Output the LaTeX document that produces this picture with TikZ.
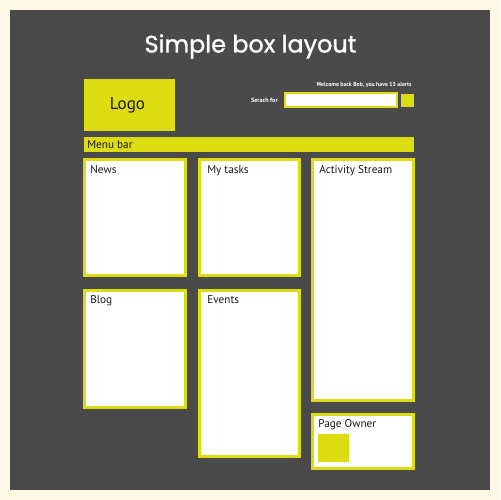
\documentclass[tikz,border=0pt]{standalone}
\usepackage{fontspec}
\setmainfont{PT Sans}
\newfontfamily\titlefont[FakeBold=1.2]{Poppins}
\definecolor{cream}{HTML}{FEF8E6}
\definecolor{darkbg}{HTML}{4A4A4A}
\definecolor{ylw}{HTML}{DCDC11}
\definecolor{ink}{HTML}{1A1A1A}
\begin{document}
\begin{tikzpicture}[x=0.02cm,y=-0.02cm,
  panel/.style={draw=ylw,line width=1.7pt,fill=white,inner sep=0pt,outer sep=0pt},
  solidbox/.style={fill=ylw,inner sep=0pt,outer sep=0pt},
  lbl/.style={anchor=base west,inner sep=0pt,font=\fontsize{6.4pt}{7pt}\selectfont,text=ink},
  tiny/.style={inner sep=0pt,text=white}]
\useasboundingbox (0,0) rectangle (500,500);
\fill[cream] (0,0) rectangle (500,500);
\fill[darkbg] (10,10) rectangle (490,490);
\node[anchor=base,inner sep=0pt,text=white,font=\titlefont\fontsize{13.6pt}{16pt}\selectfont] (title) at (250.5,52.5) {Simple box layout};
% header
\node[solidbox,minimum width=91*0.02cm,minimum height=52*0.02cm] (logo) at (129.5,105) {};
\node[anchor=base,inner sep=0pt,text=ink,font=\fontsize{9.7pt}{11pt}\selectfont] (logotext) at (127.5,110) {Logo};
\node[tiny,anchor=base east,font=\bfseries\fontsize{3.3pt}{3.8pt}\selectfont] (welcome) at (412,87) {Welcome back Bob, you have 13 alerts};
\node[tiny,anchor=base east,font=\bfseries\fontsize{3.5pt}{4pt}\selectfont] (searchlbl) at (278,102.5) {Serach for};
\node[draw=ylw,line width=1.1pt,fill=white,inner sep=0pt,outer sep=0pt,minimum width=112*0.02cm,minimum height=14*0.02cm] (search) at (341,100) {};
\node[solidbox,minimum width=13*0.02cm,minimum height=13*0.02cm] (go) at (407.5,100.5) {};
\node[solidbox,minimum width=330*0.02cm,minimum height=15*0.02cm] (menu) at (249,144.5) {};
\node[lbl] (menutext) at (87,148.5) {Menu bar};
% panels
\node[panel,minimum width=101*0.02cm,minimum height=116*0.02cm] (news) at (135,217.5) {};
\node[panel,minimum width=100*0.02cm,minimum height=116*0.02cm] (tasks) at (249.5,217.5) {};
\node[panel,minimum width=101*0.02cm,minimum height=241*0.02cm] (activity) at (363,280) {};
\node[panel,minimum width=101*0.02cm,minimum height=117*0.02cm] (blog) at (135,349) {};
\node[panel,minimum width=100*0.02cm,minimum height=166*0.02cm] (events) at (249.5,373.5) {};
\node[panel,minimum width=101*0.02cm,minimum height=54*0.02cm] (owner) at (363,441.5) {};
\node[solidbox,minimum width=31*0.02cm,minimum height=28*0.02cm] (avatar) at (333.5,448) {};
% labels
\node[lbl] (newstext) at (90,173) {News};
\node[lbl] (taskstext) at (207,173) {My tasks};
\node[lbl] (activitytext) at (319,173) {Activity Stream};
\node[lbl] (blogtext) at (90,303) {Blog};
\node[lbl] (eventstext) at (207,303) {Events};
\node[lbl] (ownertext) at (318,427.5) {Page Owner};
\end{tikzpicture}
\end{document}
